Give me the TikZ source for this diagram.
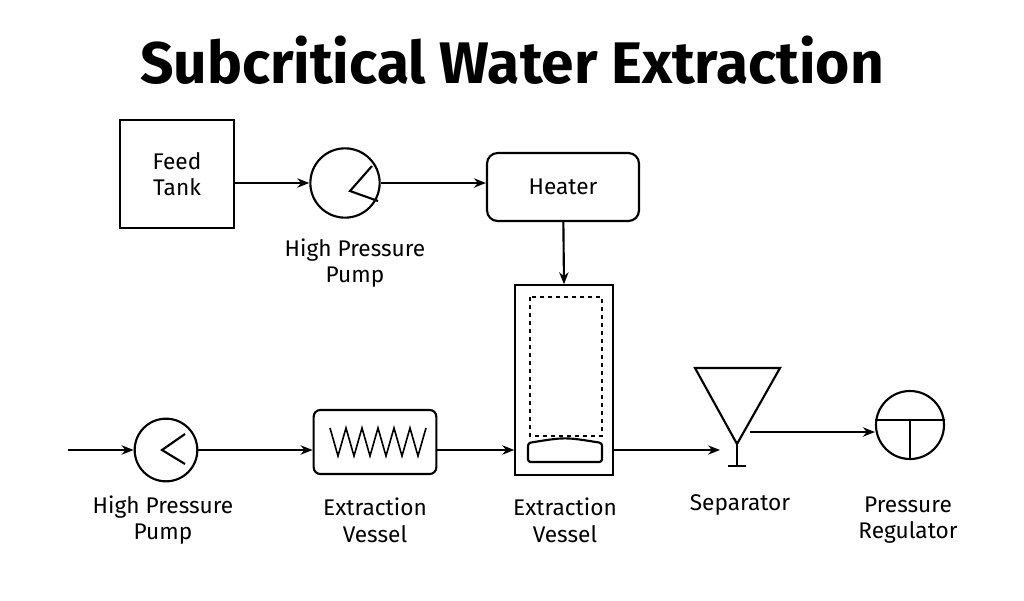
\documentclass[tikz,border=0pt]{standalone}
\usepackage{fontspec}
\setmainfont{Fira Sans}
\usetikzlibrary{arrows.meta, positioning}
\tikzset{
  >={Stealth[length=9pt,width=7pt]},
  flow/.style={->, line width=1.6pt},
  unit/.style={draw, line width=1.6pt, minimum width=86pt, minimum height=81pt},
  pump/.style={draw, circle, line width=1.6pt, minimum size=#1},
  lbl/.style={align=center, font=\fontsize{17}{20}\selectfont},
}
\begin{document}
\begin{tikzpicture}[x=0.75pt, y=-0.75pt, line width=1.6pt]
  \useasboundingbox (0,0) rectangle (1024,600);
  \node[font=\fontsize{44}{50}\selectfont\bfseries] (title) at (512,60) {Subcritical Water Extraction};

  % top row
  \node[unit, lbl] (tank) at (177,174) {Feed\\Tank};
  \node[pump=52pt] (pumpa) at (345,183) {};
  \draw (372,166) -- (350,191) -- (378,201);
  \node[lbl] (pumpalbl) at (355,263) {High Pressure\\Pump};
  \node[draw, rounded corners=8pt, minimum width=114pt, minimum height=51pt, lbl] (heater) at (563,187) {Heater};
  \draw[flow] (tank.east |- pumpa) -- (pumpa);
  \draw[flow] (pumpa.east) -- (heater.west |- pumpa.east);

  % extraction column
  \node[draw, minimum width=73pt, minimum height=142pt] (column) at (564,380) {};
  \draw[dashed, line width=1pt] (530,297) rectangle (602,436);
  \draw[rounded corners=2pt] (528,462) -- (528,443) .. controls (565,437) .. (602,443) -- (602,462) -- cycle;
  \draw[flow] (heater) -- (column.north);
  \node[lbl] (columnlbl) at (565,520) {Extraction\\Vessel};

  % bottom row
  \coordinate (inlet) at (68,450);
  \node[pump=47pt] (pumpb) at (166,450) {};
  \draw (185,434) -- (162,450) -- (185,464);
  \node[lbl] (pumpblbl) at (163,520) {High Pressure\\Pump};
  \node[draw, rounded corners=5pt, minimum width=92pt, minimum height=48pt] (vessel) at (375,442) {};
  \draw[line width=1.2pt] (330,428) -- (338,456) -- (346,428) -- (354,456) -- (362,428) -- (370,456)
    -- (378,428) -- (386,456) -- (394,428) -- (402,456) -- (410,428) -- (418,456) -- (426,428);
  \node[lbl] (vessellbl) at (375,520) {Extraction\\Vessel};
  \draw[flow] (inlet) -- (pumpb);
  \draw[flow] (pumpb.east) -- (vessel.west |- pumpb.east);
  \draw[flow] (vessel.east |- inlet) -- (column.west |- inlet);

  % separator
  \coordinate (septip) at (737,444);
  \draw (695,368) -- (780,368) -- (septip) -- cycle;
  \draw (septip) -- (737,466);
  \draw (728,466) -- (746,466);
  \coordinate (sepin) at (720,450);
  \coordinate (sepout) at (750,432);
  \node[lbl] (seplbl) at (740,505) {Separator};
  \draw[flow] (column.east |- inlet) -- (sepin);

  % regulator
  \node[pump=51pt] (regulator) at (910,425) {};
  \draw (regulator.west |- 0,420) -- (regulator.east |- 0,420);
  \draw (910,420) -- (910,458);
  \node[lbl] (regulatorlbl) at (908,520) {Pressure\\Regulator};
  \draw[flow] (sepout) -- (regulator.west |- sepout);
\end{tikzpicture}
\end{document}
